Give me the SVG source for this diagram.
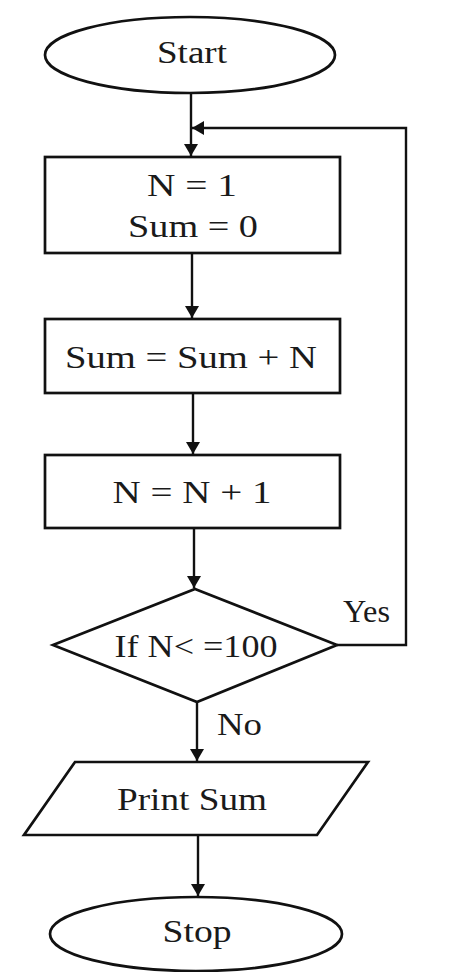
<svg xmlns="http://www.w3.org/2000/svg" width="474" height="972" viewBox="0 0 474 972">
<defs>
<marker id="ah" viewBox="0 0 12 14" refX="12" refY="7" markerWidth="13" markerHeight="14" markerUnits="userSpaceOnUse" orient="auto">
<path d="M0,0 L12,7 L0,14 Z" fill="#111"/>
</marker>
</defs>
<style>
.shape{fill:#fff;stroke:#111;stroke-width:2.7}
.conn{fill:none;stroke:#111;stroke-width:2.4}
text{font-family:"Liberation Serif","Times New Roman",serif;font-size:32px;fill:#1a1a1a;text-anchor:middle}
.lbl{text-anchor:start}
</style>
<rect width="474" height="972" fill="#fff"/>
<g id="connectors">
<path class="conn" d="M191,93 V156" marker-end="url(#ah)"/>
<path class="conn" d="M337,645 H406 V128 H192" marker-end="url(#ah)"/>
<path class="conn" d="M192,253 V318" marker-end="url(#ah)"/>
<path class="conn" d="M193,393 V454" marker-end="url(#ah)"/>
<path class="conn" d="M194,528 V588" marker-end="url(#ah)"/>
<path class="conn" d="M197,702 V761" marker-end="url(#ah)"/>
<path class="conn" d="M198,835 V896" marker-end="url(#ah)"/>
</g>
<g id="start">
<ellipse class="shape" cx="190" cy="55" rx="145" ry="38"/>
<text x="192" y="63" textLength="70" lengthAdjust="spacingAndGlyphs">Start</text>
</g>
<g id="init">
<rect class="shape" x="45" y="157" width="295" height="96"/>
<text x="192" y="196" textLength="90" lengthAdjust="spacingAndGlyphs">N = 1</text>
<text x="193" y="237" textLength="130" lengthAdjust="spacingAndGlyphs">Sum = 0</text>
</g>
<g id="add">
<rect class="shape" x="45" y="319" width="295" height="74"/>
<text x="191" y="368" textLength="252" lengthAdjust="spacingAndGlyphs">Sum = Sum + N</text>
</g>
<g id="inc">
<rect class="shape" x="45" y="455" width="295" height="73"/>
<text x="192" y="503" textLength="159" lengthAdjust="spacingAndGlyphs">N = N + 1</text>
</g>
<g id="decision">
<polygon class="shape" points="195,589 337,645 197,702 53,645"/>
<text x="196" y="657" textLength="163" lengthAdjust="spacingAndGlyphs">If N&lt; =100</text>
<text class="lbl" x="343" y="622" textLength="47" lengthAdjust="spacingAndGlyphs">Yes</text>
<text class="lbl" x="217" y="735" textLength="45" lengthAdjust="spacingAndGlyphs">No</text>
</g>
<g id="print">
<polygon class="shape" points="75,762 368,762 317,835 24,835"/>
<text x="192" y="810" textLength="150" lengthAdjust="spacingAndGlyphs">Print Sum</text>
</g>
<g id="stop">
<ellipse class="shape" cx="196" cy="934" rx="146" ry="37"/>
<text x="197" y="942" textLength="69" lengthAdjust="spacingAndGlyphs">Stop</text>
</g>
</svg>
